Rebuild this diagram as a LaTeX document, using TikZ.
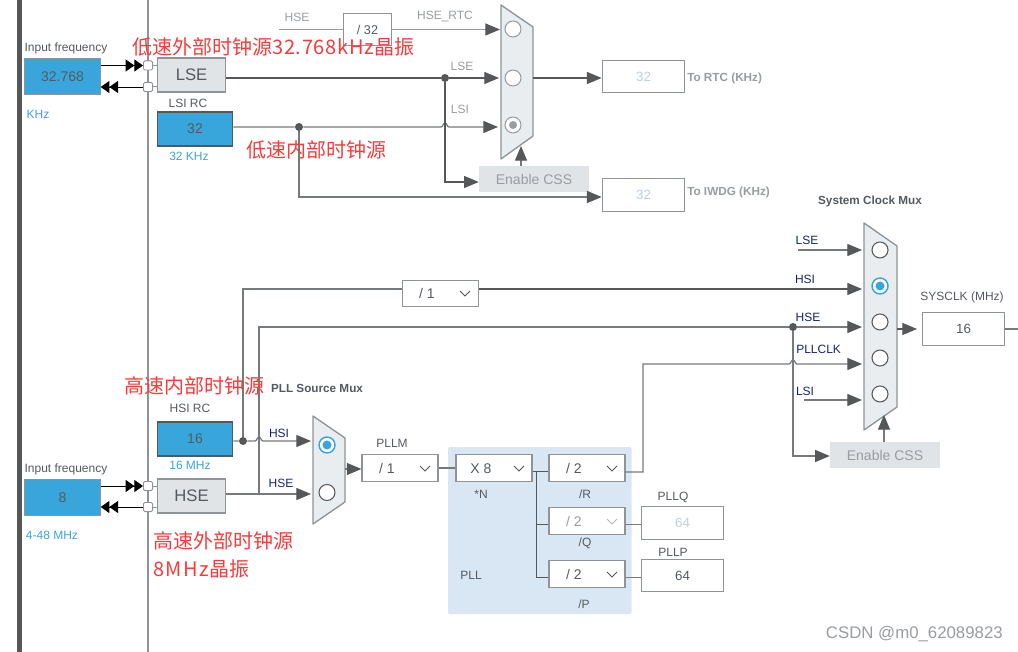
\documentclass[tikz,border=0pt]{standalone}
\usepackage{fontspec}
\setmainfont{Liberation Sans}
\newfontfamily\cjkfont{Noto Sans CJK SC}
\usetikzlibrary{arrows.meta}
\definecolor{cblue}{HTML}{38A6DB}
\definecolor{clab}{HTML}{555A60}
\definecolor{cdis}{HTML}{999DA2}
\definecolor{cline}{HTML}{777A7C}
\definecolor{cdark}{HTML}{555759}
\definecolor{cnavy}{HTML}{16256B}
\definecolor{cbord}{HTML}{8F9499}
\definecolor{cgrey}{HTML}{E1E4E7}
\definecolor{cmux}{HTML}{EAEDF0}
\definecolor{cpll}{HTML}{D9E7F4}
\definecolor{cfaint}{HTML}{BCD0E6}
\definecolor{cred}{HTML}{FB3B3B}
\tikzset{
 x=0.75pt,y=-0.75pt,
 fsmall/.style={font=\fontsize{9}{10}\selectfont},
 lab/.style={fsmall,text=clab,inner sep=0pt},
 dislab/.style={fsmall,text=cdis,inner sep=0pt},
 navy/.style={fsmall,text=cnavy,inner sep=0pt},
 bluelab/.style={fsmall,text=cblue,inner sep=0pt},
 boldlab/.style={font=\fontsize{8.8}{10}\bfseries\selectfont,text=clab,inner sep=0pt},
 boldgrey/.style={font=\fontsize{8.8}{10}\bfseries\selectfont,text=cdis,inner sep=0pt},
 redlab/.style={font=\cjkfont\fontsize{15}{18}\selectfont,text=cred,inner sep=0pt,anchor=west},
 inbox/.style={draw=cbord,line width=0.8pt,fill=cblue,minimum width=56.5pt,minimum height=27.5pt,inner sep=0pt,text=clab,font=\fontsize{10.5}{12}\selectfont},
 rcbox/.style={draw=cdark,line width=0.9pt,fill=cblue,minimum width=56.5pt,minimum height=25.5pt,inner sep=0pt,text=clab,font=\fontsize{10.5}{12}\selectfont},
 oscbox/.style={draw=cbord,line width=0.8pt,fill=cgrey,minimum width=51.5pt,minimum height=25.5pt,inner sep=0pt,text=clab,font=\fontsize{12.5}{14}\selectfont},
 valbox/.style={draw=cbord,line width=0.8pt,fill=white,minimum width=62pt,minimum height=24.5pt,inner sep=0pt,text=clab,font=\fontsize{10}{12}\selectfont},
 fadebox/.style={valbox,text=cfaint},
 ddbox/.style={draw=cbord,line width=0.8pt,fill=white,minimum width=57pt,minimum height=20pt,inner sep=0pt,text=clab,font=\fontsize{10}{12}\selectfont},
 ddtext/.style={lab,font=\fontsize{10.5}{12}\selectfont},
 cssbox/.style={fill=cgrey,minimum width=82.5pt,minimum height=19.5pt,inner sep=0pt,text=cdis,font=\fontsize{10.5}{12}\selectfont},
 pin/.style={draw=cbord,line width=0.7pt,fill=white,rounded corners=1pt,minimum size=6.8pt,inner sep=0pt},
 dot/.style={circle,fill=cdark,minimum size=6pt,inner sep=0pt},
 wire/.style={draw=cline,line width=0.95pt},
 awire/.style={wire,-{Triangle[length=11pt,width=9pt,color=cdark]}},
 thinw/.style={draw=cdark,line width=0.75pt},
 pinw/.style={draw=black,line width=0.7pt,-{Triangle[length=6.5pt,width=9pt,color=black]Triangle[length=6.5pt,width=9pt,color=black]}},
 muxshape/.style={draw=cbord,line width=1pt,fill=cmux,line join=round},
 radio/.style={circle,draw=cdark,line width=0.8pt,fill=white,minimum size=12pt,inner sep=0pt},
 radiodis/.style={radio,draw=cdis},
 radiosel/.style={radio,draw=cblue,line width=1.1pt},
 chev/.style={draw=cdark,line width=0.6pt},
}
\newcommand{\chevat}[2]{\draw[chev] (#1-5,#2-2.5) -- (#1,#2+2.5) -- (#1+5,#2-2.5);}
\newcommand{\widelatin}[1]{{\addfontfeature{LetterSpace=3.5}#1}}
\begin{document}
\begin{tikzpicture}
\useasboundingbox[fill=white] (0,0) rectangle (1018,652);
% frame lines
\fill[cdark] (17,0) rectangle (21.5,652);
\draw[cbord,line width=1.1pt] (148,0) -- (148,652);
% PLL background
\fill[cpll,rounded corners=1pt] (448,447) rectangle (631.5,614);
% Muxes
\draw[muxshape] (501,5) -- (533,27) -- (533,136) -- (501,159) -- cycle;
\draw[muxshape] (864,223) -- (897,246) -- (897,407) -- (864,430) -- cycle;
\draw[muxshape] (313,416) -- (345,438) -- (345,502) -- (313,524) -- cycle;
% Top-left input
\node[lab] (inlab1) at (66,48) {Input frequency};
\node[inbox] (in1) at (62.5,76.5) {32.768};
\node[bluelab] (khz) at (38,114) {KHz};
\node[pin] (p1a) at (148,65.5) {};
\node[pin] (p1b) at (148,87) {};
\node[oscbox] (lse) at (191.5,75) {LSE};
\node[lab] (lsilab) at (188,103) {LSI RC};
\node[rcbox] (lsi) at (195,129) {32};
\node[bluelab] (lsikhz) at (189,156.5) {32 KHz};
% top mux
\node[draw=cbord,line width=0.8pt,fill=white,minimum width=35.5pt,minimum height=24pt,inner sep=0pt,text=clab,font=\fontsize{9.5}{11}\selectfont] (div32) at (367.5,29.5) {/ 32};
\node[dislab] (hselab) at (297,17) {HSE};
\node[dislab] (hsertc) at (445,17) {HSE\_RTC};
\node[dislab] (lselab) at (462,66) {LSE};
\node[dislab] (lsilab2) at (460,109) {LSI};
\node[radiodis] (r1a) at (513,29) {};
\node[radiodis] (r1b) at (513,78) {};
\node[radiodis] (r1c) at (513,125) {};
\fill[cdis] (r1c) circle (4);
\node[fadebox] (rtc) at (643.5,76.5) {32};
\node[boldgrey,anchor=west] (rtclab) at (687,78.5) {To RTC (KHz)};
\node[fadebox] (iwdg) at (643.5,195) {32};
\node[boldgrey,anchor=west] (iwdglab) at (687,192.5) {To IWDG (KHz)};
\node[cssbox] (css1) at (534,179) {Enable CSS};
\coordinate (hsein) at (279,29.5);
\coordinate (m1a) at (500,29.5);
\coordinate (lseturn) at (445,78);
\coordinate (m1b) at (499,78);
\coordinate (m1c) at (498,127);
\coordinate (m1out) at (533,78);
\coordinate (m1ctl) at (521,146);
\node[dot] (d1) at (445,78) {};
\node[dot] (d2) at (299,127) {};
\draw[wire,draw=cdis] (hsein) -- (div32.west);
\draw[awire,draw=cdis] (div32.east) -- (m1a);
\draw[awire,draw=cdark,line width=0.8pt] (lse.east |- d1) -- (d1) -- (m1b);
\draw[awire] (lsi.east |- d2) -- (d2) -- (441,127) .. controls (443,127) and (443,123) .. (445,123) .. controls (447,123) and (447,127) .. (449,127) -- (m1c);
\draw[awire,draw=cdark,line width=0.8pt] (d1) -- (445,182) -- (css1.west |- 0,182);
\draw[awire] (d2) -- (299,197) -- (iwdg.west |- 0,197);
\draw[awire,draw=cdark,line width=0.8pt] (m1out) -- (rtc.west |- m1out);
\draw[awire] (css1.north -| m1ctl) -- (m1ctl);
% pins
\draw[pinw] (in1.east |- p1a) -- (p1a.west);
\draw[pinw] (p1b.west) -- (in1.east |- p1b);
\draw[thinw,draw=cbord] (p1a.east) -- (lse.west |- p1a);
\draw[thinw,draw=cbord] (p1b.east) -- (lse.west |- p1b);
% HSI / HSE section
\node[lab] (hsilab) at (190,408) {HSI RC};
\node[rcbox] (hsi) at (195,439) {16};
\node[bluelab] (hsimhz) at (190,465) {16 MHz};
\node[lab] (inlab2) at (66,469) {Input frequency};
\node[inbox] (in2) at (62.5,497.5) {8};
\node[bluelab] (mhz) at (52,535) {4-48 MHz};
\node[pin] (p2a) at (148,486) {};
\node[pin] (p2b) at (148,507) {};
\node[oscbox] (hse) at (191.5,496) {HSE};
\draw[pinw] (in2.east |- p2a) -- (p2a.west);
\draw[pinw] (p2b.west) -- (in2.east |- p2b);
\draw[thinw,draw=cbord] (p2a.east) -- (hse.west |- p2a);
\draw[thinw,draw=cbord] (p2b.east) -- (hse.west |- p2b);
\node[boldlab] (srclab) at (317,388) {PLL Source Mux};
\node[navy] (hsin) at (279,433) {HSI};
\node[navy] (hsen) at (281,483) {HSE};
\node[radiosel] (r2a) at (327,445) {};
\fill[cblue] (r2a) circle (4.5);
\node[radio] (r2b) at (327,492.5) {};
\coordinate (m2a) at (311,441);
\coordinate (m2b) at (311,494);
\coordinate (m2out) at (345,469);
% PLL
\node[lab] (pllmlab) at (392,443) {PLLM};
\node[ddbox] (pllm) at (400,468) {};
\node[ddtext] (pllmv) at (387,468.5) {/ 1};
\chevat{425}{468.5}
\node[ddbox] (plln) at (494,468) {};
\node[ddtext] (pllnv) at (481,468.5) {X 8};
\chevat{519}{468.5}
\node[lab] (nlab) at (481,494) {*N};
\node[ddbox] (pllr) at (587,468) {};
\node[ddtext] (pllrv) at (574,468.5) {/ 2};
\chevat{612}{468.5}
\node[lab] (rlab) at (585,494) {/R};
\node[ddbox] (pllq) at (587,521) {};
\node[ddtext,text=cdis] (pllqv) at (574,521.5) {/ 2};
\draw[chev,draw=cgrey!80!black] (607,519) -- (612,524) -- (617,519);
\node[lab] (qlab) at (585,543) {/Q};
\node[ddbox] (pllp) at (587,574) {};
\node[ddtext] (pllpv) at (574,574.5) {/ 2};
\chevat{612}{574.5}
\node[lab] (plab) at (584,604) {/P};
\node[lab] (plllab) at (471,575) {PLL};
\node[lab] (qqlab) at (673,497) {PLLQ};
\node[fadebox] (qout) at (682.5,523) {64};
\node[lab] (pplab) at (673,552) {PLLP};
\node[valbox] (pout) at (682.5,575.5) {64};
\coordinate (jn) at (536,471);
\draw[awire] (m2out) -- (pllm.west |- m2out);
\draw[wire] (pllm.east) -- (plln.west);
\draw[thinw] (plln.east |- jn) -- (pllr.west |- jn);
\draw[thinw] (jn) -- (536,577) -- (pllp.west |- 0,577);
\draw[thinw] (536,524) -- (pllq.west |- 0,524);
\draw[thinw,draw=cline] (pllq.east |- 0,524) -- (qout.west |- 0,524);
\draw[thinw,draw=cline] (pllp.east |- 0,577) -- (pout.west |- 0,577);
% System clock mux
\node[boldlab] (syslab) at (870,201.5) {System Clock Mux};
\node[radio] (s1) at (880,250) {};
\node[radiosel] (s2) at (880,286) {};
\fill[cblue] (s2) circle (4.5);
\node[radio] (s3) at (880,322) {};
\node[radio] (s4) at (880,358) {};
\node[radio] (s5) at (880,394) {};
\node[navy] (n1) at (807,240.5) {LSE};
\node[navy] (n2) at (805,279.5) {HSI};
\node[navy] (n3) at (808,317.5) {HSE};
\node[navy,anchor=west] (n4) at (796,349.5) {PLLCLK};
\node[navy] (n5) at (805,391.5) {LSI};
\node[ddbox,minimum height=19pt] (div1) at (440.5,293.5) {};
\node[ddtext] (div1v) at (427,293.5) {/ 1};
\chevat{465}{293.5}
\node[lab] (sysc) at (962,297) {SYSCLK (MHz)};
\node[valbox] (sysv) at (963.5,329) {16};
\node[cssbox] (css2) at (885,455) {Enable CSS};
\node[dot] (hsid) at (243,441) {};
\node[dot] (hsed) at (793,327) {};
\coordinate (hsej) at (259,494);
\coordinate (lsestart) at (798,250);
\coordinate (s1in) at (862,250);
\coordinate (s2in) at (862,289);
\coordinate (s3in) at (862,327);
\coordinate (s4in) at (862,364);
\coordinate (s5in) at (862,400);
\coordinate (lsis) at (804,400);
\coordinate (sout) at (897,329);
\coordinate (s6ctl) at (884,415);
\coordinate (edge) at (1018,329);
\draw[awire] (lsestart) -- (s1in);
\draw[wire] (hsid) -- (243,289) -- (div1.west |- 0,289);
\draw[awire,draw=cdark,line width=0.8pt] (div1.east |- 0,289) -- (s2in);
\draw[awire] (259,494) -- (259,327) -- (hsed) -- (s3in);
\draw[awire] (lsis) -- (s5in);
\draw[awire] (pllr.east |- 0,472) -- (643,472) -- (643,364) -- (789,364) .. controls (791,364) and (791,360) .. (793,360) .. controls (795,360) and (795,364) .. (797,364) -- (s4in);
\draw[awire] (hsed) -- (793,456) -- (css2.west |- 0,456);
\draw[awire] (css2.north -| s6ctl) -- (s6ctl);
\draw[awire,draw=cdark,line width=0.8pt] (sout) -- (sysv.west -| 917,329);
\draw[wire] (sysv.east) -- (edge);
% HSI / HSE into PLL mux
\draw[awire] (hsi.east |- hsid) -- (hsid) -- (255,441) .. controls (257,441) and (257,437) .. (259,437) .. controls (261,437) and (261,441) .. (263,441) -- (m2a);
\draw[awire] (hse.east |- hsej) -- (m2b);
% Red annotations
\node[redlab] (a1) at (132,47) {低速外部时钟源\widelatin{32.768kHz}晶振};
\node[redlab] (a2) at (246,150) {低速内部时钟源};
\node[redlab] (a3) at (124,386) {高速内部时钟源};
\node[redlab] (a4) at (153,541) {高速外部时钟源};
\node[redlab] (a5) at (153,569) {{\addfontfeature{LetterSpace=8}8MHz}晶振};
\node[font=\fontsize{12.6}{14}\selectfont,text=cdis,inner sep=0pt,anchor=east] (wm) at (1003,634) {CSDN @m0\_62089823};
\end{tikzpicture}
\end{document}
